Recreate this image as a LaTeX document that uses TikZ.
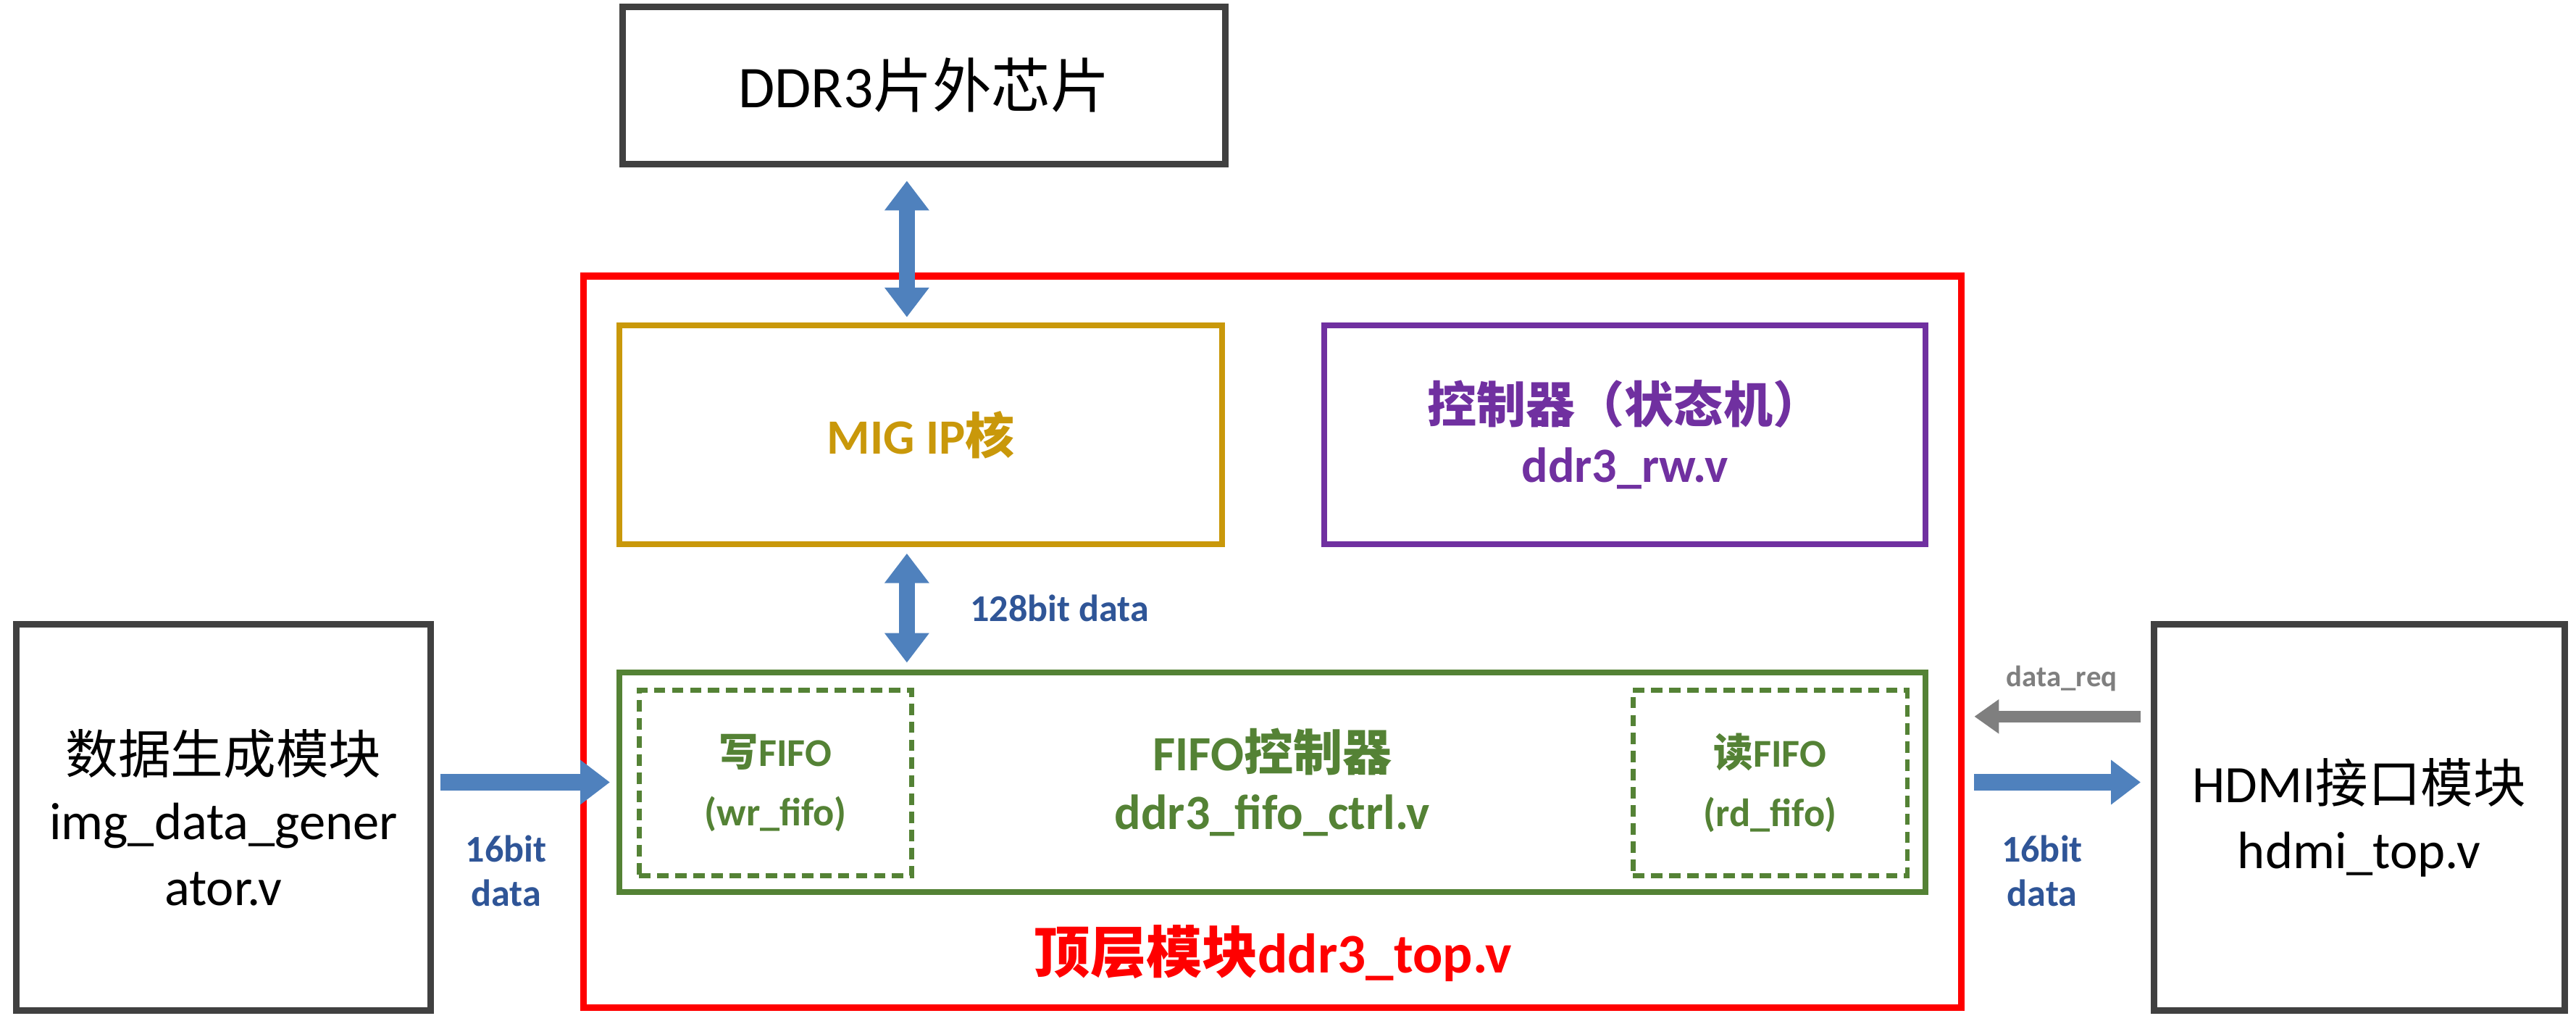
\documentclass[tikz,border=0pt]{standalone}
\usepackage{fontspec}
\setmainfont{Carlito}
\newfontfamily\cjk{Noto Sans CJK SC}
\usetikzlibrary{arrows.meta,calc}
\definecolor{dgray}{HTML}{404040}
\definecolor{myred}{HTML}{FF0000}
\definecolor{gold}{HTML}{C9980A}
\definecolor{purp}{HTML}{7030A0}
\definecolor{grn}{HTML}{548235}
\definecolor{blu}{HTML}{4F81BD}
\definecolor{lbl}{HTML}{2F5597}
\definecolor{gry}{HTML}{7F7F7F}
\tikzset{
 box/.style={draw, line width=4pt, inner sep=0pt, align=center},
 blk/.style={line width=10pt, blu, -{Triangle[length=18pt,width=26pt]}},
 dblk/.style={line width=10pt, blu, {Triangle[length=18pt,width=26pt]}-{Triangle[length=18pt,width=26pt]}},
 lab/.style={font=\bfseries\fontsize{23}{27}\selectfont, text=lbl, align=center}
}
\begin{document}
\begin{tikzpicture}[x=1pt,y=-1pt]
\useasboundingbox (0,0) rectangle (1568,626);
\node[box, dgray, minimum width=367pt, minimum height=96pt, font=\fontsize{36}{40}\selectfont, text=black] (ddr) at (562.5,52) {DDR3{\cjk 片外芯片}};
\node[box, myred, minimum width=839pt, minimum height=445pt] (top) at (774.5,390.5) {};
\node[box, gold, line width=3.5pt, minimum width=367pt, minimum height=133pt, text=gold, font=\bfseries\fontsize{30}{34}\selectfont] (mig) at (560.5,264.5) {MIG IP{\cjk\bfseries 核}};
\node[box, purp, line width=3.5pt, minimum width=366pt, minimum height=133pt, text=purp, font=\bfseries\fontsize{30}{36}\selectfont] (ctrl) at (989,264.5) {{\cjk\bfseries 控制器（状态机）}\\ddr3\_rw.v};
\node[box, grn, line width=3.5pt, minimum width=795pt, minimum height=134pt, text=grn, font=\bfseries\fontsize{30}{36}\selectfont] (fifo) at (774.5,476) {FIFO{\cjk\bfseries 控制器}\\ddr3\_fifo\_ctrl.v};
\node[box, grn, line width=3pt, dashed, dash pattern=on 7pt off 4pt, minimum width=166pt, minimum height=113pt, text=grn, font=\bfseries\fontsize{24}{36}\selectfont] (wr) at (472,476.5) {{\cjk\bfseries 写}FIFO\\(wr\_fifo)};
\node[box, grn, line width=3pt, dashed, dash pattern=on 7pt off 4pt, minimum width=167pt, minimum height=113pt, text=grn, font=\bfseries\fontsize{24}{36}\selectfont] (rd) at (1077.5,476.5) {{\cjk\bfseries 读}FIFO\\(rd\_fifo)};
\node[box, dgray, minimum width=252pt, minimum height=235pt, text=black, font=\fontsize{32}{40}\selectfont] (gen) at (136,497.5) {{\cjk 数据生成模块}\\img\_data\_gener\\ator.v};
\node[box, dgray, minimum width=250pt, minimum height=235pt, text=black, font=\fontsize{32}{40}\selectfont] (hdmi) at (1436,497.5) {HDMI{\cjk 接口模块}\\hdmi\_top.v};
\node[font=\bfseries\fontsize{34}{40}\selectfont, text=myred] (toplab) at (775,580) {{\cjk\bfseries 顶层模块}ddr3\_top.v};
\coordinate (ax) at (552,0);
\draw[dblk] ($(ddr.south -| ax)+(0,8)$) -- ($(top.north -| ax)+(0,27)$);
\draw[dblk] ($(mig.south -| ax)+(0,4)$) -- ($(fifo.north -| ax)+(0,-4)$);
\draw[blk] ($(gen.east)+(4,-21.5)$) -- ($(fifo.west)+(-4,0)$);
\draw[blk] ($(fifo.east)+(28,0)$) -- ($(hdmi.west)+(-6,-21.5)$);
\draw[gry, line width=7pt, -{Triangle[length=15pt,width=20pt]}] ($(hdmi.west)+(-6,-61.5)$) -- ($(fifo.east)+(28,-40)$);
\node[lab] (l128) at (645,370) {128bit data};
\node[lab] (l16a) at (308,530) {16bit\\data};
\node[lab] (l16b) at (1243,530) {16bit\\data};
\node[font=\bfseries\fontsize{18}{20}\selectfont, text=gry] (lreq) at (1255,413) {data\_req};
\end{tikzpicture}
\end{document}
